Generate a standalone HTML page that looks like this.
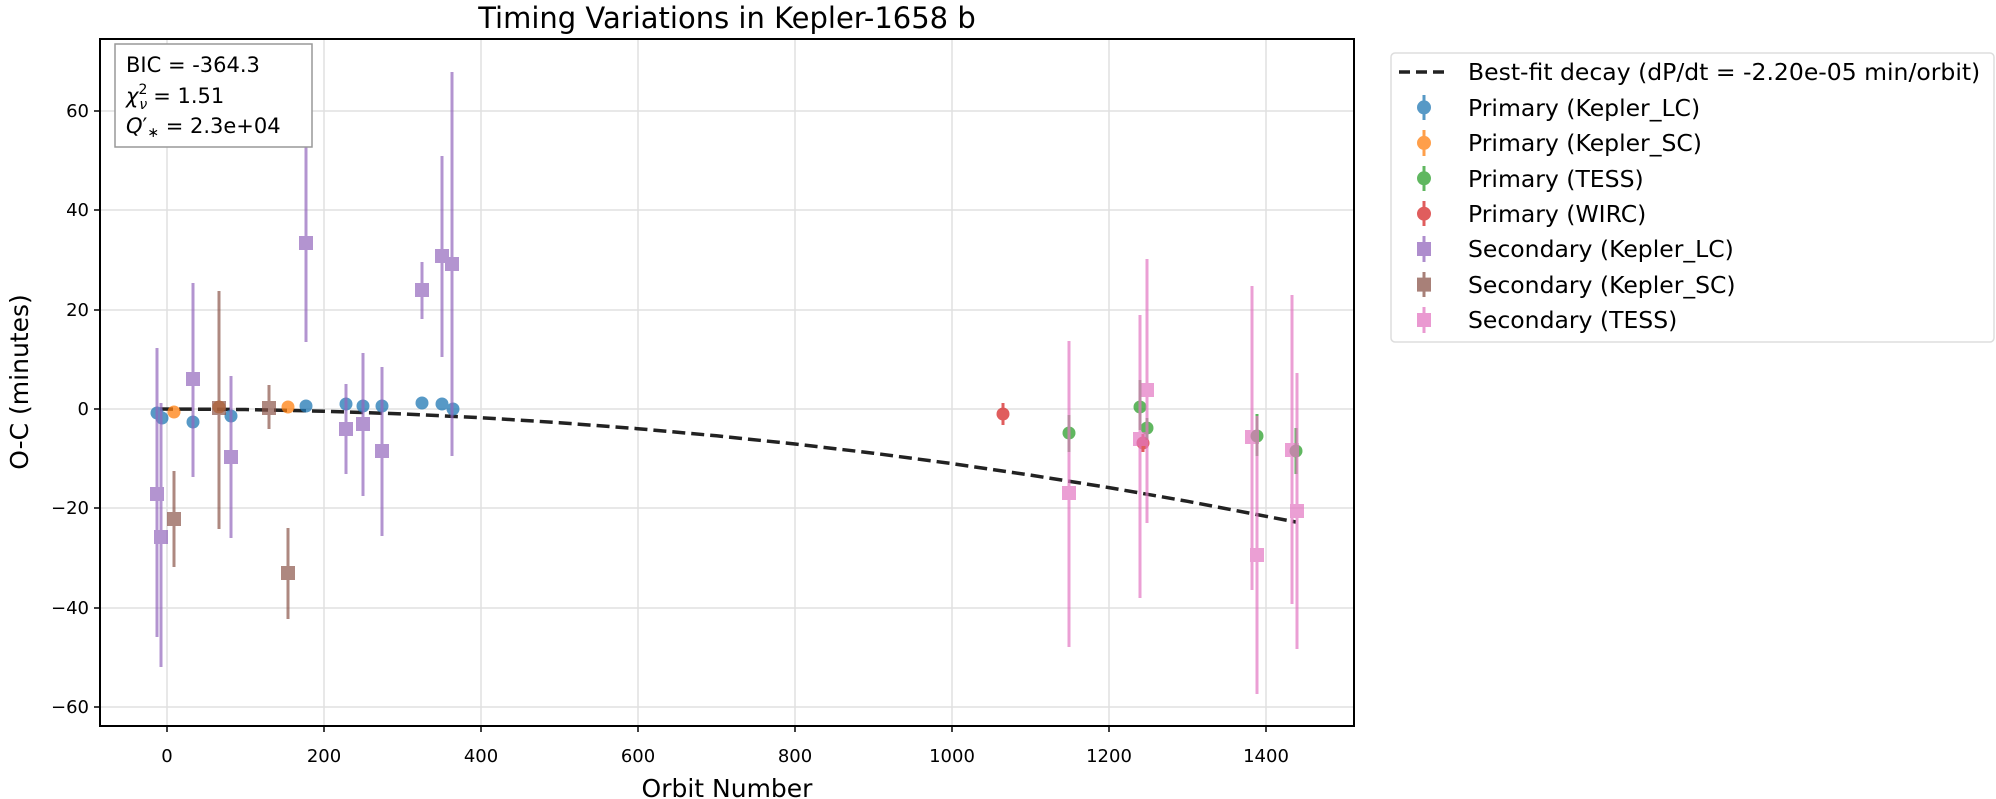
<!DOCTYPE html>
<html><head><meta charset="utf-8"><style>
html,body{margin:0;padding:0;background:#fff}
svg{display:block;font-family:"DejaVu Sans","Liberation Sans",sans-serif}
</style></head><body>
<svg width="1996" height="799" viewBox="0 0 1996 799" xmlns="http://www.w3.org/2000/svg">
<rect width="1996" height="799" fill="#fff"/>
<g stroke="#e0e0e0" stroke-width="1.5">
<line x1="167" y1="39" x2="167" y2="726"/><line x1="324" y1="39" x2="324" y2="726"/>
<line x1="481" y1="39" x2="481" y2="726"/><line x1="638" y1="39" x2="638" y2="726"/>
<line x1="795" y1="39" x2="795" y2="726"/><line x1="952" y1="39" x2="952" y2="726"/>
<line x1="1109" y1="39" x2="1109" y2="726"/><line x1="1266" y1="39" x2="1266" y2="726"/>
<line x1="100" y1="111" x2="1354" y2="111"/><line x1="100" y1="210" x2="1354" y2="210"/>
<line x1="100" y1="310" x2="1354" y2="310"/><line x1="100" y1="409" x2="1354" y2="409"/>
<line x1="100" y1="508" x2="1354" y2="508"/><line x1="100" y1="608" x2="1354" y2="608"/>
<line x1="100" y1="707" x2="1354" y2="707"/>
</g>
<polyline fill="none" stroke="#222" stroke-width="3.5" stroke-dasharray="13,6" points="160,409 245.5,409.5 324,411.2 402.5,413.9 481,417.7 559.5,422.7 638,428.7 716.5,435.8 795,444 873.5,453.2 952,463.6 1030.5,475.1 1109,487.6 1187.5,501.3 1295.8,522"/>
<g fill="#1f77b4" stroke="#1f77b4" stroke-width="3" opacity="0.75">
<line x1="157" y1="409" x2="157" y2="417"/><circle cx="157" cy="413" r="6.5" stroke="none"/>
<line x1="162" y1="414" x2="162" y2="422"/><circle cx="162" cy="418" r="6.5" stroke="none"/>
<line x1="193" y1="418" x2="193" y2="426"/><circle cx="193" cy="422" r="6.5" stroke="none"/>
<line x1="231" y1="412" x2="231" y2="420"/><circle cx="231" cy="416" r="6.5" stroke="none"/>
<circle cx="306" cy="406" r="6.5" stroke="none"/><circle cx="346" cy="404" r="6.5" stroke="none"/>
<circle cx="363" cy="406" r="6.5" stroke="none"/><circle cx="382" cy="406" r="6.5" stroke="none"/>
<circle cx="422" cy="403" r="6.5" stroke="none"/><circle cx="442" cy="404" r="6.5" stroke="none"/>
<circle cx="453" cy="409" r="6.5" stroke="none"/>
</g>
<g fill="#ff7f0e" opacity="0.75">
<circle cx="174" cy="412" r="6.5"/><circle cx="219" cy="407" r="6.5"/><circle cx="288" cy="407" r="6.5"/>
</g>
<g fill="#2ca02c" stroke="#2ca02c" stroke-width="3" opacity="0.75">
<line x1="1069" y1="415" x2="1069" y2="452"/><circle cx="1069" cy="433" r="6.5" stroke="none"/>
<line x1="1140" y1="380" x2="1140" y2="430"/><circle cx="1140" cy="407" r="6.5" stroke="none"/>
<line x1="1147" y1="418" x2="1147" y2="440"/><circle cx="1147" cy="428" r="6.5" stroke="none"/>
<line x1="1257" y1="414" x2="1257" y2="456"/><circle cx="1257" cy="436" r="6.5" stroke="none"/>
<line x1="1296" y1="428" x2="1296" y2="474"/><circle cx="1296" cy="451" r="6.5" stroke="none"/>
</g>
<g fill="#d62728" stroke="#d62728" stroke-width="3" opacity="0.75">
<line x1="1003" y1="403" x2="1003" y2="425"/><circle cx="1003" cy="414" r="6.5" stroke="none"/>
<line x1="1143" y1="434" x2="1143" y2="452"/><circle cx="1143" cy="443" r="6.5" stroke="none"/>
</g>
<g fill="#9467bd" stroke="#9467bd" stroke-width="3" opacity="0.7">
<line x1="157" y1="348" x2="157" y2="637"/><rect x="150" y="487" width="14" height="14" stroke="none"/>
<line x1="161" y1="403" x2="161" y2="667"/><rect x="154" y="530" width="14" height="14" stroke="none"/>
<line x1="193" y1="283" x2="193" y2="477"/><rect x="186" y="372" width="14" height="14" stroke="none"/>
<line x1="231" y1="376" x2="231" y2="538"/><rect x="224" y="450" width="14" height="14" stroke="none"/>
<line x1="306" y1="111" x2="306" y2="342"/><rect x="299" y="236" width="14" height="14" stroke="none"/>
<line x1="346" y1="384" x2="346" y2="474"/><rect x="339" y="422" width="14" height="14" stroke="none"/>
<line x1="363" y1="353" x2="363" y2="496"/><rect x="356" y="417" width="14" height="14" stroke="none"/>
<line x1="382" y1="367" x2="382" y2="536"/><rect x="375" y="444" width="14" height="14" stroke="none"/>
<line x1="422" y1="262" x2="422" y2="319"/><rect x="415" y="283" width="14" height="14" stroke="none"/>
<line x1="442" y1="156" x2="442" y2="357"/><rect x="435" y="249" width="14" height="14" stroke="none"/>
<line x1="452" y1="72" x2="452" y2="456"/><rect x="445" y="257" width="14" height="14" stroke="none"/>
</g>
<g fill="#8c564b" stroke="#8c564b" stroke-width="3" opacity="0.7">
<line x1="174" y1="471" x2="174" y2="567"/><rect x="167" y="512" width="14" height="14" stroke="none"/>
<line x1="219" y1="291" x2="219" y2="529"/><rect x="212" y="401" width="14" height="14" stroke="none"/>
<line x1="269" y1="385" x2="269" y2="429"/><rect x="262" y="401" width="14" height="14" stroke="none"/>
<line x1="288" y1="528" x2="288" y2="619"/><rect x="281" y="566" width="14" height="14" stroke="none"/>
</g>
<g fill="#e377c2" stroke="#e377c2" stroke-width="3" opacity="0.7">
<line x1="1069" y1="341" x2="1069" y2="647"/><rect x="1062" y="486" width="14" height="14" stroke="none"/>
<line x1="1140" y1="315" x2="1140" y2="598"/><rect x="1133" y="432" width="14" height="14" stroke="none"/>
<line x1="1147" y1="259" x2="1147" y2="523"/><rect x="1140" y="383" width="14" height="14" stroke="none"/>
<line x1="1252" y1="286" x2="1252" y2="590"/><rect x="1245" y="430" width="14" height="14" stroke="none"/>
<line x1="1257" y1="416" x2="1257" y2="694"/><rect x="1250" y="548" width="14" height="14" stroke="none"/>
<line x1="1292" y1="295" x2="1292" y2="604"/><rect x="1285" y="443" width="14" height="14" stroke="none"/>
<line x1="1297" y1="373" x2="1297" y2="649"/><rect x="1290" y="504" width="14" height="14" stroke="none"/>
</g>
<rect x="100" y="39" width="1254" height="687" fill="none" stroke="#000" stroke-width="2"/>
<g stroke="#000" stroke-width="1.5">
<line x1="167" y1="726" x2="167" y2="732"/><line x1="324" y1="726" x2="324" y2="732"/>
<line x1="481" y1="726" x2="481" y2="732"/><line x1="638" y1="726" x2="638" y2="732"/>
<line x1="795" y1="726" x2="795" y2="732"/><line x1="952" y1="726" x2="952" y2="732"/>
<line x1="1109" y1="726" x2="1109" y2="732"/><line x1="1266" y1="726" x2="1266" y2="732"/>
<line x1="94" y1="111" x2="100" y2="111"/><line x1="94" y1="210" x2="100" y2="210"/>
<line x1="94" y1="310" x2="100" y2="310"/><line x1="94" y1="409" x2="100" y2="409"/>
<line x1="94" y1="508" x2="100" y2="508"/><line x1="94" y1="608" x2="100" y2="608"/>
<line x1="94" y1="707" x2="100" y2="707"/>
</g>
<g font-size="18" fill="#000" text-anchor="middle">
<text x="167" y="762">0</text><text x="324" y="762">200</text><text x="481" y="762">400</text>
<text x="638" y="762">600</text><text x="795" y="762">800</text><text x="952" y="762">1000</text>
<text x="1109" y="762">1200</text><text x="1266" y="762">1400</text>
</g>
<g font-size="18" fill="#000" text-anchor="end">
<text x="89" y="117">60</text><text x="89" y="216">40</text><text x="89" y="316">20</text>
<text x="89" y="415">0</text><text x="89" y="514">−20</text><text x="89" y="614">−40</text>
<text x="89" y="713">−60</text>
</g>
<text x="727" y="797" font-size="25" text-anchor="middle">Orbit Number</text>
<text transform="translate(28,382) rotate(-90)" font-size="25" text-anchor="middle">O-C (minutes)</text>
<text x="727" y="28" font-size="29" text-anchor="middle">Timing Variations in Kepler-1658 b</text>
<rect x="115" y="44" width="197" height="103" fill="#fff" stroke="#999" stroke-width="1.5"/>
<g font-size="21" fill="#000">
<text x="126" y="72">BIC = -364.3</text>
<text x="126" y="103"><tspan font-style="italic">χ</tspan><tspan font-size="14" dy="-9">2</tspan><tspan font-size="14" font-style="italic" dx="-8" dy="15">ν</tspan><tspan dy="-6" dx="6">= 1.51</tspan></text>
<text x="126" y="133"><tspan font-style="italic">Q</tspan>′<tspan font-size="14" dy="4">∗</tspan><tspan dy="-4"> = 2.3e+04</tspan></text>
</g>
<rect x="1391" y="53" width="603" height="289" rx="4" fill="#fff" stroke="#ddd" stroke-width="1.5"/>
<line x1="1399" y1="72" x2="1448" y2="72" stroke="#222" stroke-width="3.5" stroke-dasharray="11,6"/>
<g stroke-width="3" opacity="0.75">
<g fill="#1f77b4" stroke="#1f77b4"><line x1="1424" y1="95" x2="1424" y2="120"/><circle cx="1424" cy="107.4" r="7" stroke="none"/></g>
<g fill="#ff7f0e" stroke="#ff7f0e"><line x1="1424" y1="130" x2="1424" y2="156"/><circle cx="1424" cy="142.9" r="7" stroke="none"/></g>
<g fill="#2ca02c" stroke="#2ca02c"><line x1="1424" y1="166" x2="1424" y2="191"/><circle cx="1424" cy="178.3" r="7" stroke="none"/></g>
<g fill="#d62728" stroke="#d62728"><line x1="1424" y1="201" x2="1424" y2="226"/><circle cx="1424" cy="213.7" r="7" stroke="none"/></g>
<g fill="#9467bd" stroke="#9467bd"><line x1="1424" y1="236" x2="1424" y2="262"/><rect x="1417" y="242" width="14" height="14" stroke="none"/></g>
<g fill="#8c564b" stroke="#8c564b"><line x1="1424" y1="272" x2="1424" y2="297"/><rect x="1417" y="277.6" width="14" height="14" stroke="none"/></g>
</g>
<g opacity="0.75" fill="#e377c2" stroke="#e377c2" stroke-width="3"><line x1="1424" y1="307" x2="1424" y2="333"/><rect x="1417" y="313" width="14" height="14" stroke="none"/></g>
<g font-size="23.5" fill="#000">
<text x="1468" y="80">Best-fit decay (dP/dt = -2.20e-05 min/orbit)</text>
<text x="1468" y="116">Primary (Kepler_LC)</text>
<text x="1468" y="151">Primary (Kepler_SC)</text>
<text x="1468" y="187">Primary (TESS)</text>
<text x="1468" y="222">Primary (WIRC)</text>
<text x="1468" y="257">Secondary (Kepler_LC)</text>
<text x="1468" y="293">Secondary (Kepler_SC)</text>
<text x="1468" y="328">Secondary (TESS)</text>
</g>
</svg>
</body></html>
